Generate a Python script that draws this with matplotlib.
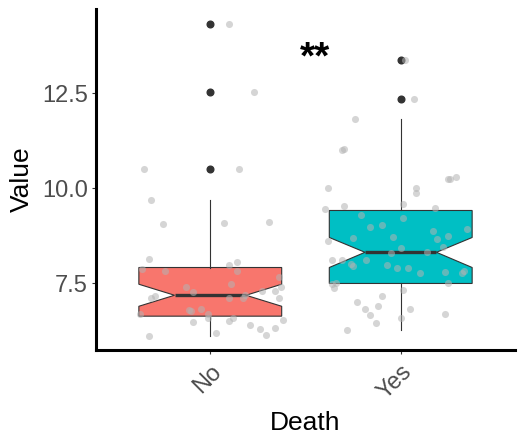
import matplotlib
matplotlib.use("Agg")
import matplotlib.pyplot as plt
import numpy as np

plt.rcParams['font.family'] = ['Liberation Sans', 'DejaVu Sans']

# categories and colours
groups = ['No', 'Yes']
fills = ['#F8766D', '#00BFC4']

# box statistics
q1 = [6.63, 7.49]
med = [7.18, 8.31]
q3 = [7.91, 9.41]
whis_lo = [6.11, 6.26]
whis_hi = [9.68, 11.82]
notch_lo = [6.89, 7.91]
notch_hi = [7.47, 8.70]
outliers_no = [14.31, 12.52, 10.49]
outliers_yes = [13.36, 12.33]

# jittered raw points: value and horizontal offset from the category centre
no_vals = [14.31, 12.52, 10.49, 10.49, 9.68, 9.05, 9.08, 9.12, 8.13, 8.05, 7.97, 7.86,
           7.81, 7.81, 7.65, 7.47, 7.39, 7.39, 7.26, 7.28, 7.28, 7.16, 7.10, 7.12,
           7.12, 7.18, 7.10, 6.79, 6.76, 6.83, 6.70, 6.57, 6.68, 6.47, 6.49, 6.57,
           6.41, 6.54, 6.28, 6.31, 6.13, 6.20, 6.10]
no_jit = [0.10, 0.23, -0.35, 0.15, -0.31, -0.25, 0.07, 0.31, -0.32, 0.14, 0.10, -0.36,
          -0.24, 0.14, 0.36, 0.11, -0.13, 0.37, -0.09, 0.27, 0.34, -0.29, -0.31, 0.10,
          0.17, 0.18, 0.36, -0.11, -0.10, -0.05, -0.01, -0.01, -0.37, -0.09, 0.10, 0.12,
          0.21, 0.38, 0.26, 0.34, 0.29, 0.03, -0.32]
yes_vals = [13.36, 12.33, 11.82, 10.99, 11.03, 10.23, 10.24, 10.28, 9.99, 9.99, 9.86, 9.57,
            9.52, 9.44, 9.47, 9.28, 9.20, 8.97, 9.02, 8.91, 8.86, 8.73, 8.70, 8.68,
            8.65, 8.60, 8.44, 8.41, 8.28, 8.31, 8.12, 8.12, 8.12, 7.99, 7.96, 7.97,
            7.89, 7.89, 7.76, 7.78, 7.76, 7.81, 7.47, 7.49, 7.36, 7.49, 7.31, 7.15,
            6.99, 6.83, 6.91, 6.83, 6.65, 6.70, 6.57, 6.44, 6.26]
yes_jit = [0.02, 0.07, -0.24, -0.31, -0.30, 0.25, 0.26, 0.29, -0.38, 0.08, 0.08, 0.01,
           -0.30, -0.40, 0.18, -0.21, 0.01, -0.16, -0.10, 0.35, 0.17, 0.25, -0.04, -0.25,
           0.19, -0.38, 0.22, 0.00, -0.05, 0.14, -0.36, -0.31, -0.18, -0.26, -0.25, -0.07,
           -0.02, 0.04, 0.10, 0.23, 0.32, 0.33, -0.36, -0.34, -0.35, 0.25, 0.01, -0.10,
           -0.23, -0.19, -0.12, 0.05, -0.16, 0.23, 0.00, -0.13, -0.28]

signif_label = '**'
signif_x = 1.55
signif_y = 13.4

fig = plt.figure(figsize=(5.25, 4.47), dpi=100)
ax = fig.add_axes([96 / 525, 97 / 447, 419 / 525, 341 / 447])

# boxes
stats = []
fliers = [outliers_no, outliers_yes]
for i in range(len(groups)):
    stats.append(dict(q1=q1[i], med=med[i], q3=q3[i], whislo=whis_lo[i], whishi=whis_hi[i],
                      cilo=notch_lo[i], cihi=notch_hi[i], fliers=fliers[i], label=groups[i]))

bp = ax.bxp(stats, positions=[1, 2], widths=0.75, shownotches=True, showcaps=False,
            patch_artist=True,
            boxprops=dict(edgecolor='#333333', linewidth=0.8),
            whiskerprops=dict(color='#333333', linewidth=0.8),
            medianprops=dict(color='#333333', linewidth=2.4, solid_capstyle='butt'),
            flierprops=dict(marker='o', markerfacecolor='#333333', markeredgecolor='#333333',
                            markersize=4.8))
for patch, c in zip(bp['boxes'], fills):
    patch.set_facecolor(c)

# jittered points
ax.scatter(1 + np.array(no_jit), no_vals, s=26, color='#B3B3B3', alpha=0.55,
           linewidths=0, zorder=5)
ax.scatter(2 + np.array(yes_jit), yes_vals, s=26, color='#B3B3B3', alpha=0.55,
           linewidths=0, zorder=5)

ax.text(signif_x, signif_y, signif_label, fontsize=28, fontweight='bold',
        ha='center', va='center', color='black')

ax.set_xlim(0.4, 2.6)
ax.set_ylim(5.74, 14.71)
ax.set_yticks([7.5, 10.0, 12.5])
ax.set_yticklabels(['7.5', '10.0', '12.5'])
ax.set_xticks([1, 2])
ax.set_xticklabels(groups, rotation=45, ha='right', va='top', rotation_mode='anchor')

ax.spines['top'].set_visible(False)
ax.spines['right'].set_visible(False)
ax.spines['left'].set_linewidth(2.2)
ax.spines['bottom'].set_linewidth(2.2)
ax.tick_params(axis='both', length=3, width=0.8, color='#333333',
               labelcolor='#4D4D4D', labelsize=17)
ax.tick_params(axis='y', pad=3)
ax.tick_params(axis='x', pad=5)

ax.set_xlabel('Death', fontsize=19, labelpad=5)
ax.set_ylabel('Value', fontsize=19, labelpad=6)

fig.savefig('out.png', dpi=100)
